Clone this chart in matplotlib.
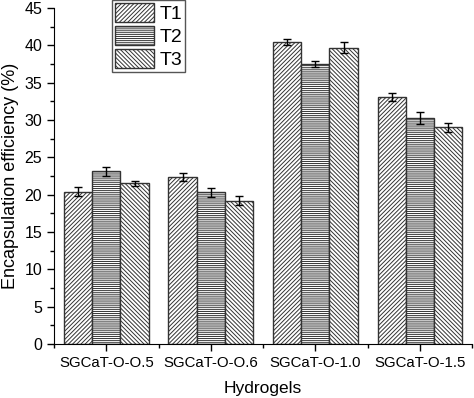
import matplotlib.pyplot as plt
import numpy as np
from matplotlib.ticker import MultipleLocator, FixedLocator

plt.rcParams['font.family'] = ['Liberation Sans', 'DejaVu Sans']
plt.rcParams['hatch.linewidth'] = 0.7

hydrogels = ['SGCaT-O-O.5', 'SGCaT-O-O.6', 'SGCaT-O-1.0', 'SGCaT-O-1.5']
t1 = [20.4, 22.4, 40.5, 33.1]
t2 = [23.1, 20.3, 37.5, 30.3]
t3 = [21.5, 19.2, 39.7, 29.0]
t1_err = [0.6, 0.55, 0.4, 0.5]
t2_err = [0.65, 0.6, 0.45, 0.8]
t3_err = [0.3, 0.65, 0.7, 0.55]

fig = plt.figure(figsize=(4.74, 3.98), dpi=100)
ax = fig.add_axes([0.114, 0.136, 0.882, 0.844])

x = np.arange(1, len(hydrogels) + 1)
w = 0.27
series = [(t1, t1_err, '////////', 'T1'), (t2, t2_err, '--------', 'T2'),
          (t3, t3_err, '\\\\\\\\\\\\\\\\', 'T3')]
for i, (vals, err, hatch, lab) in enumerate(series):
    ax.bar(x + (i - 1) * w, vals, w, yerr=err, color='white', edgecolor='#333333',
           hatch=hatch, linewidth=1.0, label=lab,
           error_kw=dict(ecolor='black', elinewidth=1, capsize=3, capthick=1))

ax.set_xlim(0.5, 4.5)
ax.set_ylim(0, 45)
ax.set_xticks(x)
ax.set_xticklabels(hydrogels, fontsize=10.8)
ax.xaxis.set_minor_locator(FixedLocator(np.arange(0.5, 5, 1)))
ax.yaxis.set_major_locator(MultipleLocator(5))
ax.yaxis.set_minor_locator(MultipleLocator(2.5))
ax.tick_params(axis='y', labelsize=11.5)
ax.tick_params(which='major', length=5, width=1)
ax.tick_params(which='minor', length=3, width=1)

ax.spines['top'].set_visible(False)
ax.spines['right'].set_visible(False)

ax.set_xlabel('Hydrogels', fontsize=12.5, labelpad=8)
ax.set_ylabel('Encapsulation efficiency (%)', fontsize=13, labelpad=4)

leg = ax.legend(loc='upper left', bbox_to_anchor=(0.139, 1.024), fontsize=14,
                fancybox=False, framealpha=1, edgecolor='#555555',
                handlelength=2.0, handleheight=1.15, borderpad=0.15,
                labelspacing=0.15, handletextpad=0.3, borderaxespad=0)

fig.savefig('out.png', dpi=100)
